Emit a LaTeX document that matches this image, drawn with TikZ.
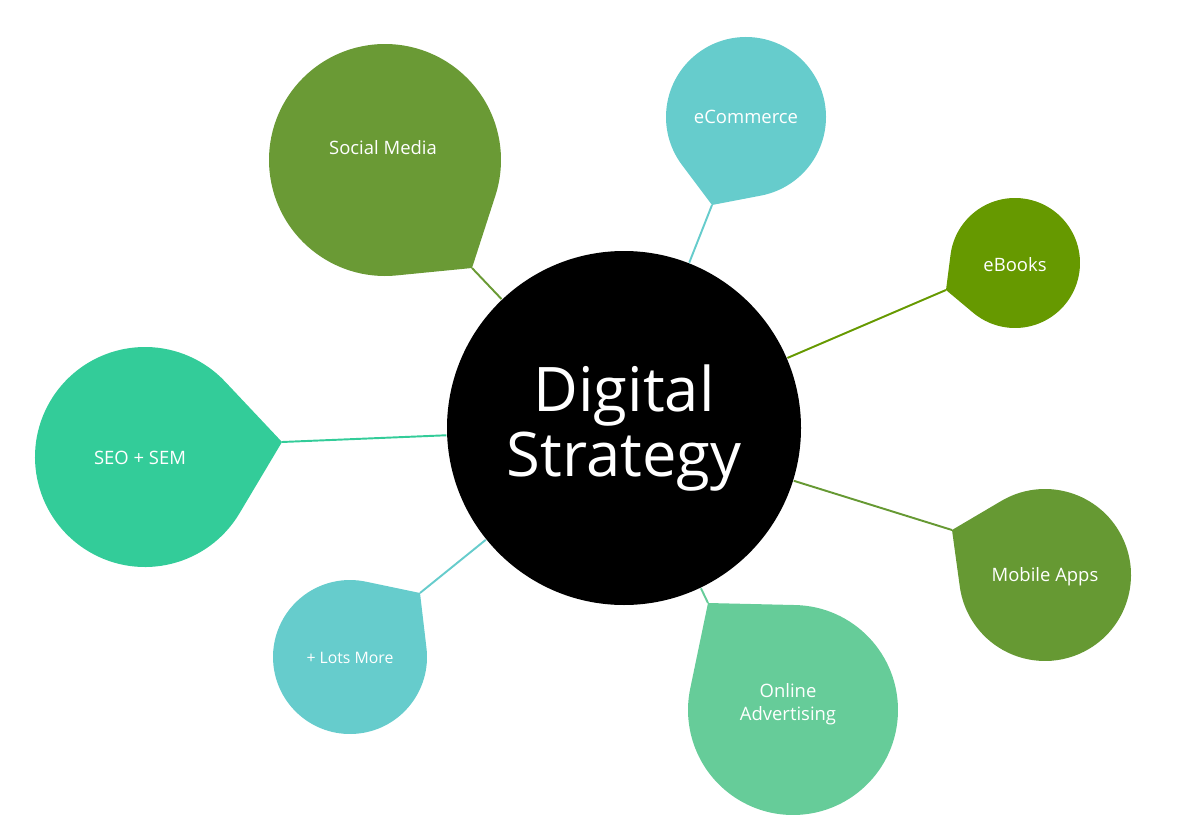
\documentclass[tikz,border=0pt]{standalone}
\usepackage{fontspec}
\setmainfont{Open Sans}
\definecolor{cSM}{HTML}{6A9A35}
\definecolor{cEC}{HTML}{66CCCC}
\definecolor{cEB}{HTML}{669900}
\definecolor{cSEO}{HTML}{33CC99}
\definecolor{cMA}{HTML}{669933}
\definecolor{cOA}{HTML}{66CC99}
\newcommand\mydrop[6]{%
  \pgfmathsetmacro\ddx{#4-#1}\pgfmathsetmacro\ddy{#5-#2}%
  \pgfmathsetmacro\th{atan2(\ddy,\ddx)}%
  \pgfmathsetmacro\dd{veclen(\ddx,\ddy)}%
  \pgfmathsetmacro\aa{acos(#3/\dd)}%
  \pgfmathsetmacro\sa{\th+\aa}\pgfmathsetmacro\ea{\th-\aa+360}%
  \fill[#6] (#4,#5) -- ([shift={(#1,#2)}]\sa:#3) arc[start angle=\sa, end angle=\ea, radius=#3] -- cycle;}
\tikzset{lbl/.style={text=white,font=\fontsize{10.5pt}{13pt}\selectfont,align=center},
  conn/.style={line width=1.1pt}}
\begin{document}
\begin{tikzpicture}[x=0.02cm,y=-0.02cm]
\useasboundingbox (0,0) rectangle (1200,828);
\node[circle,minimum size=7.1cm,inner sep=0] (c) at (624,428) {};
% tips
\coordinate (smt) at (472,268);
\coordinate (ect) at (712,205);
\coordinate (ebt) at (946,290);
\coordinate (seot) at (282,442);
\coordinate (mat) at (952,530);
\coordinate (oat) at (708,603);
\coordinate (lmt) at (420,593);
\draw[conn,cSM] (smt) -- (c);
\draw[conn,cEC] (ect) -- (c);
\draw[conn,cEB] (ebt) -- (c);
\draw[conn,cSEO] (seot) -- (c);
\draw[conn,cMA] (mat) -- (c);
\draw[conn,cOA] (oat) -- (c);
\draw[conn,cEC] (lmt) -- (c);
\fill[black] (c.center) circle[radius=177];
\node[text=white,align=center,font=\fontsize{35pt}{37pt}\selectfont] at (c.center) {Digital\\Strategy};
\mydrop{385}{160}{116}{472}{268}{cSM}
\mydrop{746}{117}{80}{712}{205}{cEC}
\mydrop{1015}{263}{65}{946}{290}{cEB}
\mydrop{145}{457}{110}{282}{442}{cSEO}
\mydrop{1045}{575}{86}{952}{530}{cMA}
\mydrop{793}{710}{105}{708}{603}{cOA}
\mydrop{350}{657}{77}{420}{593}{cEC}
\node[lbl] (sm) at (383,148) {Social Media};
\node[lbl] (ec) at (746,117) {eCommerce};
\node[lbl] (eb) at (1015,265) {eBooks};
\node[lbl] (seo) at (140,458) {SEO + SEM};
\node[lbl] (ma) at (1045,577) {Mobile Apps};
\node[lbl] (oa) at (788,704) {Online\\Advertising};
\node[lbl,font=\fontsize{9pt}{11pt}\selectfont] (lm) at (350,658) {+ Lots More};
\end{tikzpicture}
\end{document}
